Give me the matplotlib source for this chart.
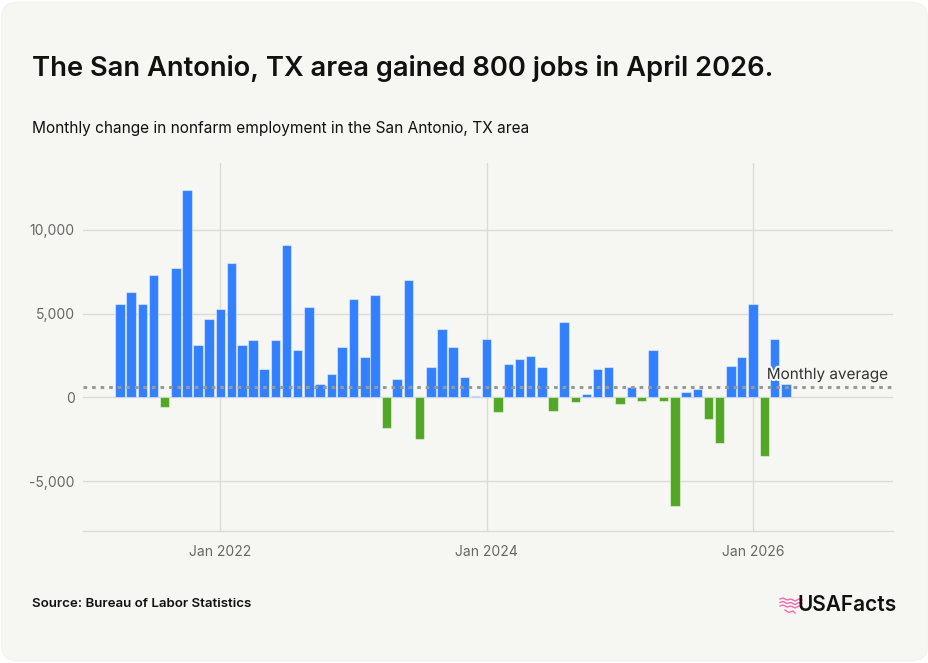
import matplotlib
matplotlib.use("Agg")
import matplotlib.pyplot as plt
import matplotlib.patheffects as pe
from matplotlib.patches import FancyBboxPatch
import pandas as pd
import datetime as dt

# ---- data ----
start_month = "2021-04-01"
job_changes = [
    5600, 6300, 5600, 7300, -600, 7700, 12400, 3100, 4700,            # 2021 Apr-Dec
    5300, 8000, 3100, 3400, 1700, 3400, 9100, 2800, 5400, 800, 1400, 3000,   # 2022
    5900, 2400, 6100, -1800, 1100, 7000, -2500, 1800, 4100, 3000, 1200, 100,  # 2023
    3500, -900, 2000, 2300, 2500, 1800, -800, 4500, -300, 200, 1700, 1800,    # 2024
    -400, 600, -200, 2800, -200, -6500, 300, 500, -1300, -2700, 1900, 2400,   # 2025
    5600, -3500, 3500, 800,                                               # 2026 Jan-Apr
]
monthly_average = 600
y_ticks = [-5000, 0, 5000, 10000]
x_tick_labels = ["Jan 2022", "Jan 2024", "Jan 2026"]

title = "The San Antonio, TX area gained 800 jobs in April 2026."
subtitle = "Monthly change in nonfarm employment in the San Antonio, TX area"
source = "Source: Bureau of Labor Statistics"

# ---- style ----
BG = "#F6F6F2"
BLUE = "#3380FF"
GREEN = "#52A826"
GRID = "#DCDCD6"
TICK = "#666666"
plt.rcParams["font.family"] = ["Inter", "DejaVu Sans"]

dates = pd.date_range(start_month, periods=len(job_changes), freq="MS")
colors = [BLUE if v >= 0 else GREEN for v in job_changes]

W, H = 929, 663
fig = plt.figure(figsize=(W / 100, H / 100), dpi=100)
fig.patch.set_facecolor("white")
card = FancyBboxPatch((0.002, 0.003), 0.996, 0.994,
                      boxstyle="round,pad=0,rounding_size=0.02",
                      transform=fig.transFigure, facecolor=BG, edgecolor="#F0F0EC",
                      linewidth=0.6, zorder=-10)
fig.patches.append(card)

ax = fig.add_axes([83 / W, 1 - 531.3 / H, (893 - 83) / W, (531.3 - 163) / H])
ax.set_facecolor(BG)

ax.bar(dates, job_changes, width=26, color=colors,
       edgecolor=(1, 1, 1, 0.45), linewidth=0.8, zorder=3)

ax.axhline(monthly_average, color="#999999", linestyle=(0, (1.2, 1.6)),
           linewidth=2.2, zorder=4)
ax.text(dt.date(2027, 1, 5), monthly_average + 320, "Monthly average",
        ha="right", va="bottom", fontsize=11, color="#333333", zorder=5,
        path_effects=[pe.withStroke(linewidth=3, foreground=BG)])

ax.set_ylim(-8000, 14000)
ax.set_xlim(dt.date(2020, 12, 20), dt.date(2027, 1, 20))

ax.set_yticks(y_ticks)
ax.set_yticklabels([f"{v:,}" for v in y_ticks])
tick_dates = [dt.date(int(s.split()[1]), 1, 1) for s in x_tick_labels]
ax.set_xticks(tick_dates)
ax.set_xticklabels(x_tick_labels)

ax.grid(True, color=GRID, linewidth=1, zorder=0)
ax.set_axisbelow(True)
ax.tick_params(axis="both", length=0, labelsize=10, labelcolor=TICK)
ax.tick_params(axis="y", pad=6)
ax.tick_params(axis="x", pad=10)
for s in ["left", "right", "top"]:
    ax.spines[s].set_visible(False)
ax.spines["bottom"].set_color(GRID)
ax.spines["bottom"].set_linewidth(1)

# ---- texts ----
fig.text(32 / W, 1 - 68 / H, title, fontsize=19.7, fontweight="semibold",
         color="#111111", va="center", ha="left")
fig.text(32 / W, 1 - 128 / H, subtitle, fontsize=11.1, color="#111111",
         va="center", ha="left")
fig.text(32 / W, 1 - 604 / H, source, fontsize=9.6, fontweight="semibold",
         color="#111111", va="center", ha="left")
fig.text(897 / W, 1 - 605 / H, "USAFacts", fontsize=15, fontweight="semibold",
         color="#111111", va="center", ha="right")

# simple pink outline icon
icon_ax = fig.add_axes([779 / W, 1 - 614 / H, 24 / W, 18 / H])
icon_ax.set_xlim(0, 24)
icon_ax.set_ylim(0, 18)
icon_ax.axis("off")
pink = "#F06BAE"
for off in (0, 3.5, 7):
    icon_ax.plot([1, 4, 8, 12, 16, 20, 23], [15 - off, 16 - off, 14 - off, 15 - off, 13 - off, 15 - off, 14 - off],
                 color=pink, linewidth=1)
icon_ax.plot([6, 10, 14, 16], [4, 1.5, 3, 1], color=pink, linewidth=1)

fig.savefig("out.png", dpi=100, facecolor=fig.get_facecolor())
